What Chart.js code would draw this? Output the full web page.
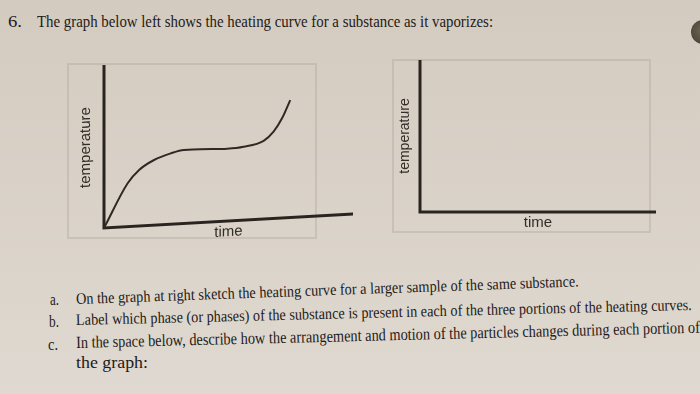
<!DOCTYPE html>
<html>
<head>
<meta charset="utf-8">
<script src="https://cdn.jsdelivr.net/npm/chart.js@4.4.1/dist/chart.umd.min.js"></script>
<style>
  html, body { margin:0; padding:0; }
  body { width:700px; height:394px; overflow:hidden; position:relative;
    background: linear-gradient(180deg, #d4cbc0 0%, #d9d1c7 45%, #ddd6cd 80%, #dfd9d1 100%); }
  .box { position:absolute; border:2px solid rgba(170,160,148,0.35); box-sizing:border-box; }
  .txt { position:absolute; white-space:nowrap; font-family:"Liberation Serif","Times New Roman",serif;
    color:#1e1a17; line-height:1; transform-origin:0 50%; }
  canvas { position:absolute; }
  #c1 { left:60px; top:55px; }
  #c2 { left:380px; top:45px; }
  #dot { position:absolute; left:691px; top:20px; width:24px; height:24px; border-radius:50%;
    background: radial-gradient(circle at 45% 45%, #6a6252 0%, #4d4537 70%, #3d3629 100%); }
</style>
</head>
<body>
<div class="box" style="left:67px; top:63px; width:250px; height:176px;"></div>
<div class="box" style="left:392px; top:59px; width:259px; height:174px;"></div>
<div id="dot"></div>

<div class="txt" style="left:8px; top:13px; font-size:17px;" data-w="14">6.</div>
<div class="txt" style="left:37px; top:13px; font-size:17px;" data-w="456">The graph below left shows the heating curve for a substance as it vaporizes:</div>

<div class="txt" style="left:50px; top:292px; font-size:16px;" data-w="9">a.</div>
<div class="txt" style="left:76px; top:291px; font-size:16px;" data-w="503" data-r="-2.0">On the graph at right sketch the heating curve for a larger sample of the same substance.</div>

<div class="txt" style="left:49px; top:314px; font-size:16px;" data-w="10">b.</div>
<div class="txt" style="left:76px; top:312px; font-size:16px;" data-w="616" data-r="-1.4">Label which phase (or phases) of the substance is present in each of the three portions of the heating curves.</div>

<div class="txt" style="left:48px; top:336px; font-size:17px;" data-w="10">c.</div>
<div class="txt" style="left:76px; top:334px; font-size:17px;" data-w="624" data-r="-1.4">In the space below, describe how the arrangement and motion of the particles changes during each portion of</div>
<div class="txt" style="left:76px; top:354px; font-size:17px;" data-w="72">the graph:</div>

<canvas id="c1" width="310" height="200"></canvas>
<canvas id="c2" width="300" height="200"></canvas>

<script>
// ---- data (arbitrary units, 0-100) ----
const timeValues = [0, 9.5, 14.1, 20.1, 26.8, 32.1, 38.8, 49.5, 56.1, 64.1, 68.1, 71.5, 74.8];
const temperatureValues = [0, 26.6, 34.4, 40.0, 43.5, 45.1, 45.0, 44.4, 45.0, 48.0, 53.3, 61.2, 72.1];
const xAxisLabel = 'time';
const yAxisLabel = 'temperature';

// fit text lines to measured widths
document.querySelectorAll('.txt').forEach(el => {
  const w = parseFloat(el.dataset.w);
  const r = parseFloat(el.dataset.r || 0);
  const m = el.getBoundingClientRect().width;
  const s = m > 0 ? w / m : 1;
  el.style.transform = 'rotate(' + r + 'deg) scaleX(' + s + ')';
});

const axisColor = '#2a2420';

// draws the L-shaped axis lines along the chart area edges
const axesPlugin = {
  id: 'lAxes',
  beforeDatasetsDraw(chart) {
    const { ctx, chartArea: { left, top, right, bottom } } = chart;
    ctx.save();
    ctx.strokeStyle = axisColor;
    ctx.lineWidth = 3;
    ctx.lineJoin = 'miter';
    ctx.beginPath();
    ctx.moveTo(left, top);
    ctx.lineTo(left, bottom);
    ctx.lineTo(right, bottom);
    ctx.stroke();
    ctx.restore();
  }
};

// photo perspective: shear the whole left chart around its origin
const shearPlugin = {
  id: 'shear',
  beforeDraw(chart) {
    const t = Math.tan(3.2 * Math.PI / 180);
    const ox = chart.chartArea.left;
    chart.ctx.save();
    chart.ctx.transform(1, -t, 0, 1, 0, t * ox);
  },
  afterDraw(chart) {
    chart.ctx.restore();
  }
};

function scaleOpts(title, size, pad) {
  return {
    type: 'linear', min: 0, max: 100,
    grid: { display: false, drawTicks: false },
    ticks: { display: false },
    border: { display: false },
    title: { display: true, text: title, color: '#332d29',
      font: { family: 'Liberation Sans', size: size, weight: 'normal' }, padding: pad }
  };
}

const points = timeValues.map((t, i) => ({ x: t, y: temperatureValues[i] }));

new Chart(document.getElementById('c1'), {
  type: 'line',
  data: { datasets: [{ data: points, borderColor: '#2f2925', borderWidth: 2,
    pointRadius: 0, cubicInterpolationMode: 'monotone', fill: false }] },
  options: {
    responsive: false, animation: false, devicePixelRatio: 1,
    layout: { padding: { left: 13, top: 10, right: 17, bottom: 3 } },
    plugins: { legend: { display: false }, tooltip: { enabled: false } },
    scales: {
      x: scaleOpts(xAxisLabel, 15, { top: 2, bottom: 4 }),
      y: scaleOpts(yAxisLabel, 15, { top: 4, bottom: 9 })
    }
  },
  plugins: [shearPlugin, axesPlugin]
});

new Chart(document.getElementById('c2'), {
  type: 'line',
  data: { datasets: [{ data: [], borderWidth: 0, pointRadius: 0 }] },
  options: {
    responsive: false, animation: false, devicePixelRatio: 1,
    layout: { padding: { left: 13.2, top: 15, right: 24, bottom: 9 } },
    plugins: { legend: { display: false }, tooltip: { enabled: false } },
    scales: {
      x: scaleOpts(xAxisLabel, 15, { top: 2, bottom: 4 }),
      y: scaleOpts(yAxisLabel, 14, { top: 4, bottom: 6 })
    }
  },
  plugins: [axesPlugin]
});
</script>
</body>
</html>
